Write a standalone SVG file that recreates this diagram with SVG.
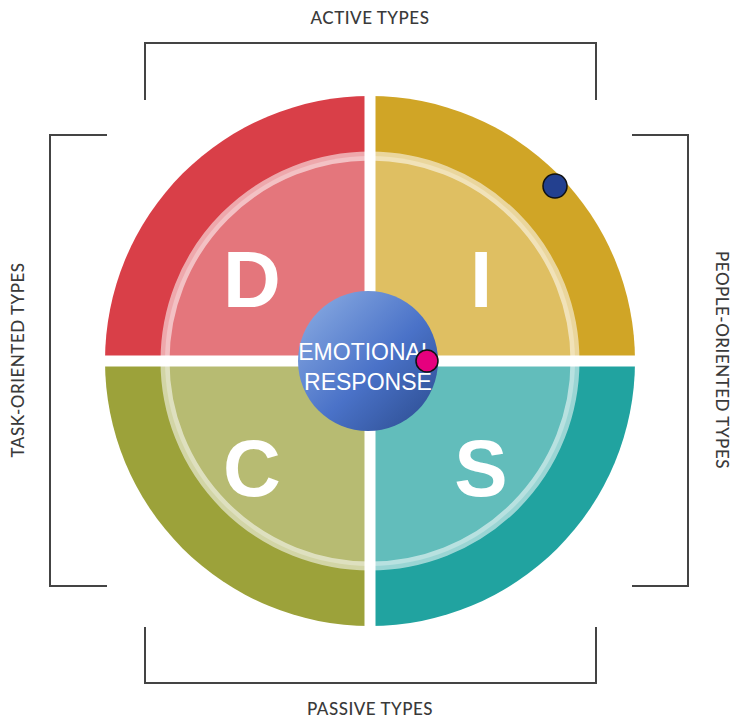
<svg xmlns="http://www.w3.org/2000/svg" width="740" height="728" viewBox="0 0 740 728">
<defs>
<linearGradient id="g" x1="0" y1="0" x2="1" y2="1"><stop offset="0" stop-color="#8fb0e4"/><stop offset="0.55" stop-color="#4a72c8"/><stop offset="1" stop-color="#2a4a8c"/></linearGradient>
<style>
.br{fill:none;stroke:#444;stroke-width:2}
.lb{font-family:"Lato","Liberation Sans",sans-serif;font-size:17px;font-weight:500;fill:#3a3a3a;text-anchor:middle;letter-spacing:0.5px}
.big{font-family:"Liberation Sans",sans-serif;font-weight:bold;font-size:80px;fill:#fff;text-anchor:middle}
.ct{font-family:"Liberation Sans",sans-serif;font-size:23px;fill:#fff;text-anchor:middle}
</style>
</defs>
<rect width="740" height="728" fill="#fff"/>
<g id="brackets">
<path class="br" d="M145 100V43H596V100"/>
<path class="br" d="M107 135H50V586H107"/>
<path class="br" d="M632 135H688V586H632"/>
<path class="br" d="M145 627V683H596V627"/>
</g>
<text class="lb" x="370" y="24">ACTIVE TYPES</text>
<text class="lb" x="370" y="715">PASSIVE TYPES</text>
<text class="lb" transform="translate(24 360) rotate(-90)">TASK-ORIENTED TYPES</text>
<text class="lb" transform="translate(716 360) rotate(90)">PEOPLE-ORIENTED TYPES</text>
<g id="D"><path d="M370 361H105A265 265 0 0 1 370 96Z" fill="#d93f48"/><path d="M370 361H165A205 205 0 0 1 370 156Z" fill="#e4767c"/></g>
<g id="I"><path d="M370 361V96A265 265 0 0 1 635 361Z" fill="#d0a526"/><path d="M370 361V156A205 205 0 0 1 575 361Z" fill="#dfbf62"/></g>
<g id="C"><path d="M370 361H105A265 265 0 0 0 370 626Z" fill="#9ca23a"/><path d="M370 361H165A205 205 0 0 0 370 566Z" fill="#b7bb72"/></g>
<g id="S"><path d="M370 361V626A265 265 0 0 0 635 361Z" fill="#21a3a0"/><path d="M370 361V566A205 205 0 0 0 575 361Z" fill="#62bdbb"/></g>
<circle cx="370" cy="361" r="205" fill="none" stroke="#fff" stroke-opacity="0.55" stroke-width="9"/>
<g id="cross" stroke="#fff" stroke-width="11"><line x1="370" y1="90" x2="370" y2="632"/><line x1="100" y1="361" x2="640" y2="361"/></g>
<text class="big" x="252" y="307">D</text>
<text class="big" x="481" y="307">I</text>
<text class="big" x="252" y="496">C</text>
<text class="big" x="481" y="496">S</text>
<g id="center"><circle cx="368" cy="361" r="70" fill="url(#g)"/>
<text class="ct" x="366" y="360">EMOTIONAL</text><text class="ct" x="368" y="390">RESPONSE</text></g>
<circle cx="555" cy="186" r="12" fill="#23408f" stroke="#111" stroke-width="1.5"/>
<circle cx="427" cy="361" r="11" fill="#e6007e" stroke="#111" stroke-width="1.5"/>
</svg>
